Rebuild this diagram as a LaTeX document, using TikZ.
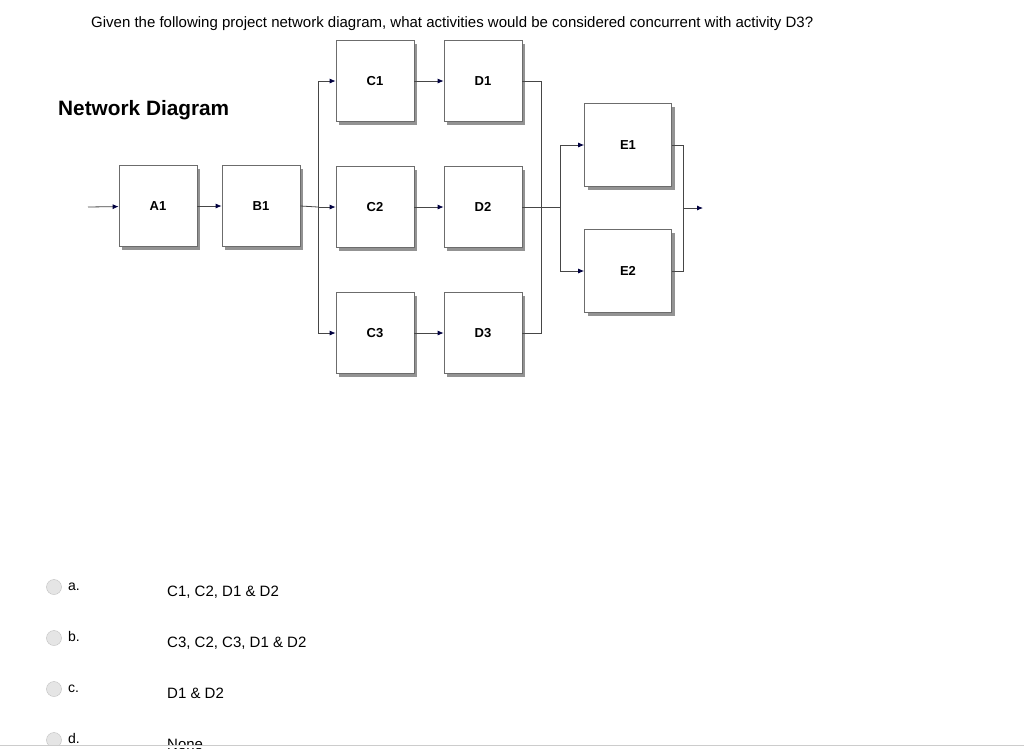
\documentclass[tikz,border=0pt]{standalone}
\usepackage{fontspec}
\setmainfont{Liberation Sans}
\usetikzlibrary{positioning,shadows,arrows.meta}

\begin{document}
\begin{tikzpicture}[x=1pt,y=-1pt,
  act/.style={draw=gray!85!black, fill=white, line width=0.7pt,
    minimum width=78pt, minimum height=81pt, inner sep=0pt,
    font=\fontsize{13}{15}\selectfont\bfseries,
    drop shadow={shadow xshift=3pt, shadow yshift=-3pt, fill=gray!85, opacity=1}},
  wide/.style={act, minimum width=87pt, minimum height=83pt},
  link/.style={draw=gray!55!black, line width=0.8pt},
  flow/.style={link, -{Latex[length=6pt,width=5pt,color=blue!25!black]}},
  radio/.style={circle, draw=gray!50, fill=gray!20, minimum size=15pt, inner sep=0pt},
  txt/.style={anchor=base west, inner sep=0pt, font=\fontsize{15}{17}\selectfont}]
\useasboundingbox (0,0) rectangle (1024,748);
\fill[white] (0,0) rectangle (1024,748);

% question and heading
\node[txt] (quest) at (91,27) {Given the following project network diagram, what activities would be considered concurrent with activity D3?};
\node[txt, font=\fontsize{20.8}{23}\selectfont\bfseries] (head) at (58,115) {Network Diagram};

% activities
\node[act] (A1) at (158,206) {A1};
\node[act] (B1) at (261,206) {B1};
\node[act] (C1) at (375,81) {C1};
\node[act] (D1) at (483,81) {D1};
\node[act] (C2) at (375,207) {C2};
\node[act] (D2) at (483,207) {D2};
\node[act] (C3) at (375,333) {C3};
\node[act] (D3) at (483,333) {D3};
\node[wide] (E1) at (628,145) {E1};
\node[wide] (E2) at (628,271) {E2};

% junction points
\coordinate (in) at (88,207);
\coordinate (split1) at (318,207);
\coordinate (join1) at (541,207);
\coordinate (split2) at (560,207);
\coordinate (join2) at (683,208);
\coordinate (out) at (703,208);

% connectors
\draw[flow] (in) -- (A1);
\draw[flow] (A1) -- (B1);
\draw[link] (B1.east) -- (split1);
\draw[flow] (split1) |- (C1.west);
\draw[flow] (split1) -- (C2.west);
\draw[flow] (split1) |- (C3.west);
\draw[flow] (C1) -- (D1);
\draw[flow] (C2) -- (D2);
\draw[flow] (C3) -- (D3);
\draw[link] (D1.east) -| (join1);
\draw[link] (D2.east) -- (join1);
\draw[link] (D3.east) -| (join1);
\draw[link] (join1) -- (split2);
\draw[flow] (split2) |- (E1.west);
\draw[flow] (split2) |- (E2.west);
\draw[link] (E1.east) -| (join2);
\draw[link] (E2.east) -| (join2);
\draw[flow] (join2) -- (out);

% answers
\foreach \i/\y/\l/\t in {1/587/a./{C1, C2, D1 \& D2}, 2/638/b./{C3, C2, C3, D1 \& D2},
                         3/689/c./{D1 \& D2}, 4/740/d./{None}}
{
\node[radio] (rad\i) at (54,\y) {};
\node[txt, font=\fontsize{14}{16}\selectfont] (let\i) at (68,\y+3) {\l};
\node[txt] (ans\i) at (167,\y+9) {\t};
}
\fill[white] (0,745) rectangle (1024,748);
\draw[gray!40, line width=1pt] (0,745.5) -- (1024,745.5);
\end{tikzpicture}
\end{document}
